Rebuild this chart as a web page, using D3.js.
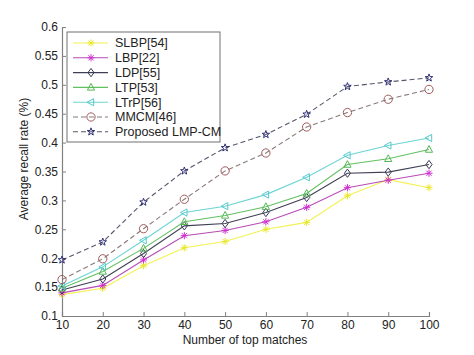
<!DOCTYPE html>
<html><head><meta charset="utf-8">
<script src="https://cdn.jsdelivr.net/npm/d3@7"></script>
<style>
body{margin:0;background:#fff;}
svg{display:block;}
text{font-family:"Liberation Sans",Arial,sans-serif;fill:#222;}
</style></head>
<body><svg id="c" width="474" height="355"></svg>
<script>
const matches = [10,20,30,40,50,60,70,80,90,100];
const xTicks = [10,20,30,40,50,60,70,80,90,100];
const yTicks = [0.1,0.15,0.2,0.25,0.3,0.35,0.4,0.45,0.5,0.55,0.6];
const yTickLabels = ["0.1","0.15","0.2","0.25","0.3","0.35","0.4","0.45","0.5","0.55","0.6"];
const seriesNames = ["SLBP[54]","LBP[22]","LDP[55]","LTP[53]","LTrP[56]","MMCM[46]","Proposed LMP-CM"];
const slbp     = [0.137,0.148,0.187,0.218,0.229,0.250,0.262,0.308,0.336,0.322];
const lbp      = [0.140,0.153,0.197,0.239,0.248,0.263,0.288,0.322,0.335,0.347];
const ldp      = [0.145,0.164,0.208,0.256,0.260,0.279,0.305,0.347,0.349,0.362];
const ltp      = [0.148,0.177,0.217,0.263,0.274,0.289,0.312,0.362,0.372,0.388];
const ltrp     = [0.152,0.185,0.231,0.279,0.290,0.310,0.340,0.378,0.395,0.408];
const mmcm     = [0.163,0.199,0.251,0.302,0.351,0.382,0.427,0.452,0.475,0.492];
const proposed = [0.197,0.228,0.297,0.351,0.391,0.414,0.449,0.497,0.505,0.512];

const svg = d3.select("#c");
const x = d3.scaleLinear().domain([10,100]).range([62,429]);
const y = d3.scaleLinear().domain([0.1,0.6]).range([316,27]);
const axisColor = "#808080";

// axes
const xa = svg.append("g").attr("transform","translate(0,316)")
  .call(d3.axisBottom(x).tickValues(xTicks).tickSize(-4).tickPadding(4.5).tickFormat(d3.format("d")));
const ya = svg.append("g").attr("transform","translate(62,0)")
  .call(d3.axisLeft(y).tickValues(yTicks).tickSize(-4).tickPadding(4).tickFormat((d,i)=>yTickLabels[i]));
[xa,ya].forEach(g=>{
  g.select(".domain").attr("stroke",axisColor).attr("stroke-width",1.2);
  g.selectAll(".tick line").attr("stroke",axisColor);
  g.selectAll(".tick text").attr("font-size",12).attr("fill","#1a1a1a")
   .attr("font-family","'Liberation Sans',Arial,sans-serif");
});

svg.append("text").attr("x",245).attr("y",344).attr("text-anchor","middle")
  .attr("font-size",12).text("Number of top matches");
svg.append("text").attr("transform","translate(28,159) rotate(-90)").attr("text-anchor","middle")
  .attr("font-size",12).text("Average recall rate (%)");

// markers
const sz = 3.6;
const markerPaths = {
  asterisk: (s)=>{const a=s*0.72;return `M${-s},0L${s},0M0,${-s}L0,${s}M${-a},${-a}L${a},${a}M${-a},${a}L${a},${-a}`;},
  diamond: (s)=>`M0,${-s*1.15}L${s*0.85},0L0,${s*1.15}L${-s*0.85},0Z`,
  triUp: (s)=>`M0,${-s*1.1}L${s},${s*0.75}L${-s},${s*0.75}Z`,
  triLeft: (s)=>`M${-s*1.1},0L${s*0.75},${-s}L${s*0.75},${s}Z`,
  circle: (s)=>`M${s},0A${s},${s} 0 1,1 ${-s},0A${s},${s} 0 1,1 ${s},0Z`,
  star: (s)=>{let p="";for(let i=0;i<10;i++){const r=i%2?s*0.45:s*1.1;const t=-Math.PI/2+i*Math.PI/5;p+=(i?"L":"M")+(r*Math.cos(t)).toFixed(2)+","+(r*Math.sin(t)).toFixed(2);}return p+"Z";}
};
const series = [
  {name:seriesNames[0], values:slbp, line:"#f2f250", mk:"#e8e830", shape:"asterisk", dash:null},
  {name:seriesNames[1], values:lbp, line:"#b84cb8", mk:"#d030d0", shape:"asterisk", dash:null},
  {name:seriesNames[2], values:ldp, line:"#3f3f55", mk:"#3a3a5a", shape:"diamond", dash:null},
  {name:seriesNames[3], values:ltp, line:"#62c062", mk:"#55b855", shape:"triUp", dash:null},
  {name:seriesNames[4], values:ltrp, line:"#6cd4d4", mk:"#55c8cc", shape:"triLeft", dash:null},
  {name:seriesNames[5], values:mmcm, line:"#8a7a7a", mk:"#a05a5a", shape:"circle", dash:"5,3"},
  {name:seriesNames[6], values:proposed, line:"#55556a", mk:"#303078", shape:"star", dash:"5,3"}
];
const line = d3.line().x((d,i)=>x(matches[i])).y(d=>y(d));
series.forEach(s=>{
  const g = svg.append("g");
  g.append("path").datum(s.values).attr("d",line).attr("fill","none")
    .attr("stroke",s.line).attr("stroke-width",1.1).attr("stroke-dasharray",s.dash);
  g.selectAll("path.m").data(s.values).enter().append("path").attr("class","m")
    .attr("transform",(d,i)=>`translate(${x(matches[i])},${y(d)})`)
    .attr("d",markerPaths[s.shape](s.shape==="circle"?sz*1.15:sz))
    .attr("fill","none").attr("stroke",s.mk).attr("stroke-width",1);
});

// legend
const lg = svg.append("g");
lg.append("rect").attr("x",67).attr("y",32).attr("width",153).attr("height",110)
  .attr("fill","#fff").attr("stroke","#707070").attr("stroke-width",1);
series.forEach((s,i)=>{
  const yy = 43 + i*14.8;
  lg.append("line").attr("x1",73).attr("x2",108).attr("y1",yy).attr("y2",yy)
    .attr("stroke",s.line).attr("stroke-width",1.1).attr("stroke-dasharray",s.dash);
  lg.append("path").attr("transform",`translate(91,${yy})`)
    .attr("d",markerPaths[s.shape](s.shape==="circle"?sz*1.15:sz))
    .attr("fill","none").attr("stroke",s.mk).attr("stroke-width",1);
  lg.append("text").attr("x",115).attr("y",yy+4.3).attr("font-size",12.5).text(s.name);
});
</script></body></html>
